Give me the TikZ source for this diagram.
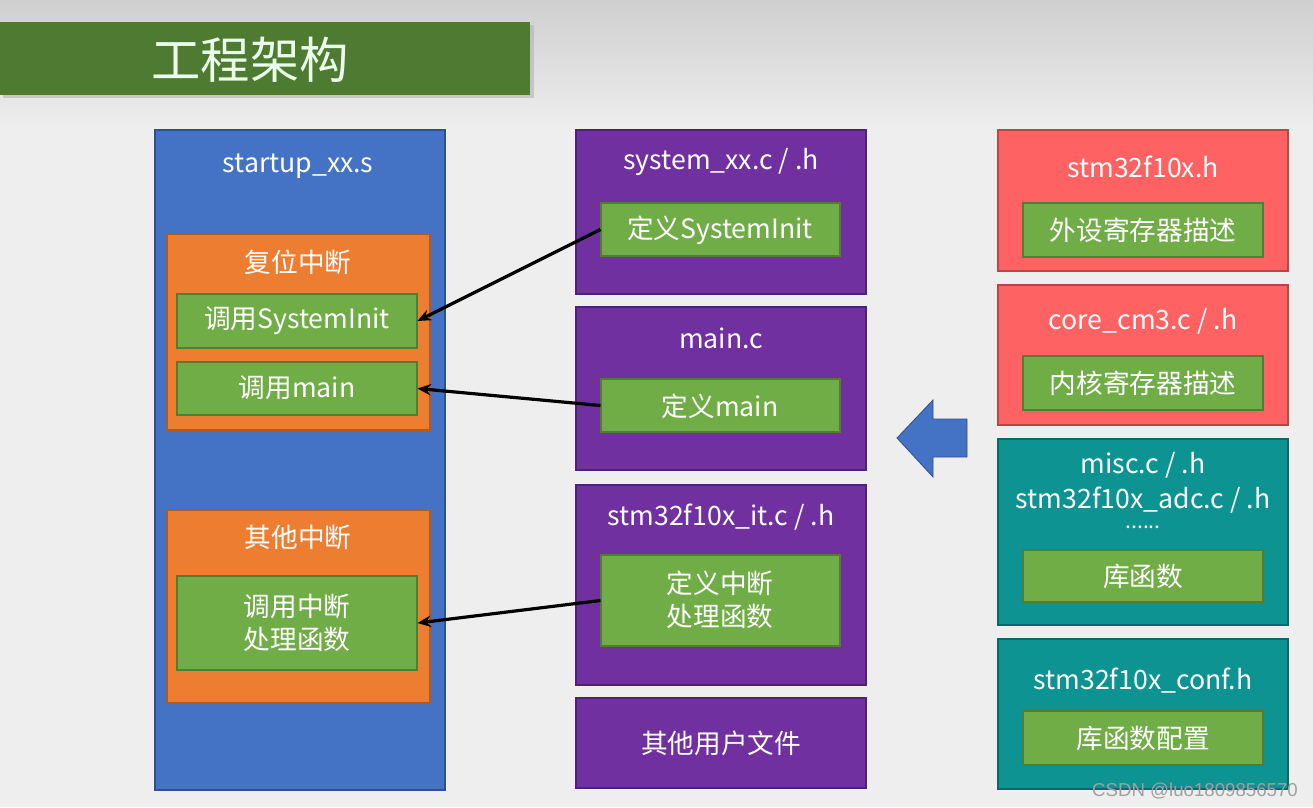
\documentclass[tikz,border=0pt]{standalone}
\usepackage{fontspec}
\setmainfont{Noto Sans CJK SC}
\newfontfamily\wmfont{Liberation Sans}
\usetikzlibrary{fit,arrows.meta}
\definecolor{cBg}{HTML}{EEEEEE}
\definecolor{cBgTop}{HTML}{CFCFCF}
\definecolor{cTitle}{HTML}{4E7A31}
\definecolor{cBlue}{HTML}{4472C4}
\definecolor{cBlueD}{HTML}{2F528F}
\definecolor{cOrange}{HTML}{ED7D31}
\definecolor{cOrangeD}{HTML}{AE5A21}
\definecolor{cGreen}{HTML}{70AD47}
\definecolor{cGreenD}{HTML}{507E32}
\definecolor{cPurple}{HTML}{7030A0}
\definecolor{cPurpleD}{HTML}{4E2272}
\definecolor{cRed}{HTML}{FF6262}
\definecolor{cRedD}{HTML}{B84646}
\definecolor{cTeal}{HTML}{0E9393}
\definecolor{cTealD}{HTML}{0A6A6A}
\definecolor{cWm}{HTML}{A0A0A0}
\begin{document}
\begin{tikzpicture}[x=0.75pt,y=-0.75pt,
  box/.style={draw, line width=0.8pt, inner sep=0pt, text=white, align=center,
    font=\fontsize{20}{25}\selectfont},
  bluebox/.style={box, fill=cBlue, draw=cBlueD},
  orangebox/.style={box, fill=cOrange, draw=cOrangeD},
  greenbox/.style={box, fill=cGreen, draw=cGreenD},
  purplebox/.style={box, fill=cPurple, draw=cPurpleD},
  redbox/.style={box, fill=cRed, draw=cRedD},
  tealbox/.style={box, fill=cTeal, draw=cTealD},
  lbl/.style={inner sep=0pt, text=white, align=center, font=\fontsize{20}{25}\selectfont},
  link/.style={-{Stealth[length=10pt,width=8.5pt]}, line width=2.4pt, black},
  blockarrow/.style={fill=cBlue, draw=cBlueD, line width=0.6pt}
]
\useasboundingbox (0,0) rectangle (1313,807);
% background
\shade[top color=cBgTop, bottom color=cBg] (0,0) rectangle (1313,130);
\fill[cBg] (0,130) rectangle (1313,807);
% title bar
\fill[black!30, opacity=0.6] (3,25) rectangle (534,98);
\node[fill=cTitle, inner sep=0pt, fit={(0,22) (530,95)}] (titlebar) {};
\node[inner sep=0pt, text=white!92!green, font=\fontsize{37}{40}\selectfont] (title) at (250,60) {工程架构};

% startup column
\node[bluebox, fit={(155,130) (445,790)}] (startup) {};
\node[lbl] (startupT) at (298,166) {startup\_xx.s};
\node[orangebox, fit={(167,234) (430,430)}] (reset) {};
\node[lbl] (resetT) at (298,262) {复位中断};
\node[greenbox, fit={(177,294) (417,348)}] (callsi) {};
\node[lbl] (callsiT) at (297,321) {调用SystemInit};
\node[greenbox, fit={(177,362) (417,415)}] (callmain) {};
\node[lbl] (callmainT) at (297,388) {调用main};
\node[orangebox, fit={(167,510) (430,703)}] (other) {};
\node[lbl] (otherT) at (298,537) {其他中断};
\node[greenbox, fit={(177,576) (417,670)}] (callirq) {};
\node[lbl] (callirqT) at (297,623) {调用中断\\处理函数};

% user column
\node[purplebox, fit={(576,130) (866,294)}] (sys) {};
\node[lbl] (sysT) at (721,162) {system\_xx.c / .h};
\node[greenbox, fit={(601,203) (840,256)}] (defsi) {};
\node[lbl] (defsiT) at (720,230) {定义SystemInit};
\node[purplebox, fit={(576,307) (866,470)}] (mainc) {};
\node[lbl] (maincT) at (721,338) {main.c};
\node[greenbox, fit={(601,379) (840,432)}] (defmain) {};
\node[lbl] (defmainT) at (720,406) {定义main};
\node[purplebox, fit={(576,485) (866,685)}] (itc) {};
\node[lbl] (itcT) at (721,517) {stm32f10x\_it.c / .h};
\node[greenbox, fit={(601,555) (840,646)}] (defirq) {};
\node[lbl] (defirqT) at (720,600) {定义中断\\处理函数};
\node[purplebox, fit={(576,698) (866,788)}] (userf) {};
\node[lbl] (userfT) at (721,743) {其他用户文件};

% library column
\node[redbox, fit={(998,130) (1288,271)}] (stmh) {};
\node[lbl] (stmhT) at (1143,167) {stm32f10x.h};
\node[greenbox, fit={(1023,203) (1263,257)}] (periph) {};
\node[lbl] (periphT) at (1143,230) {外设寄存器描述};
\node[redbox, fit={(998,285) (1288,425)}] (core) {};
\node[lbl] (coreT) at (1143,321) {core\_cm3.c / .h};
\node[greenbox, fit={(1023,356) (1263,410)}] (coreg) {};
\node[lbl] (coregT) at (1143,383) {内核寄存器描述};
\node[tealbox, fit={(998,439) (1288,625)}] (lib) {};
\node[lbl] (libT1) at (1143,465) {misc.c / .h};
\node[lbl] (libT2) at (1143,500) {stm32f10x\_adc.c / .h};
\node[lbl, font=\fontsize{16}{18}\selectfont] (libT3) at (1143,527) {......};
\node[greenbox, fit={(1023,550) (1263,602)}] (libfn) {};
\node[lbl] (libfnT) at (1143,576) {库函数};
\node[tealbox, fit={(998,639) (1288,789)}] (conf) {};
\node[lbl] (confT) at (1143,681) {stm32f10x\_conf.h};
\node[greenbox, fit={(1023,711) (1263,765)}] (libcfg) {};
\node[lbl] (libcfgT) at (1143,738) {库函数配置};

% big blue arrow
\draw[blockarrow] (897,438) -- (933,400) -- (933,419) -- (967,419) -- (967,457)
  -- (933,457) -- (933,477) -- cycle;

% connectors
\draw[link] (defsi.west) -- (callsi.east);
\draw[link] (defmain.west) -- (callmain.east);
\draw[link] (defirq.west) -- (callirq.east);

% watermark
\node[inner sep=0pt, text=cWm, font=\wmfont\fontsize{14}{16}\selectfont] (wm) at (1195,791) {CSDN @luo1809856570};
\end{tikzpicture}
\end{document}
